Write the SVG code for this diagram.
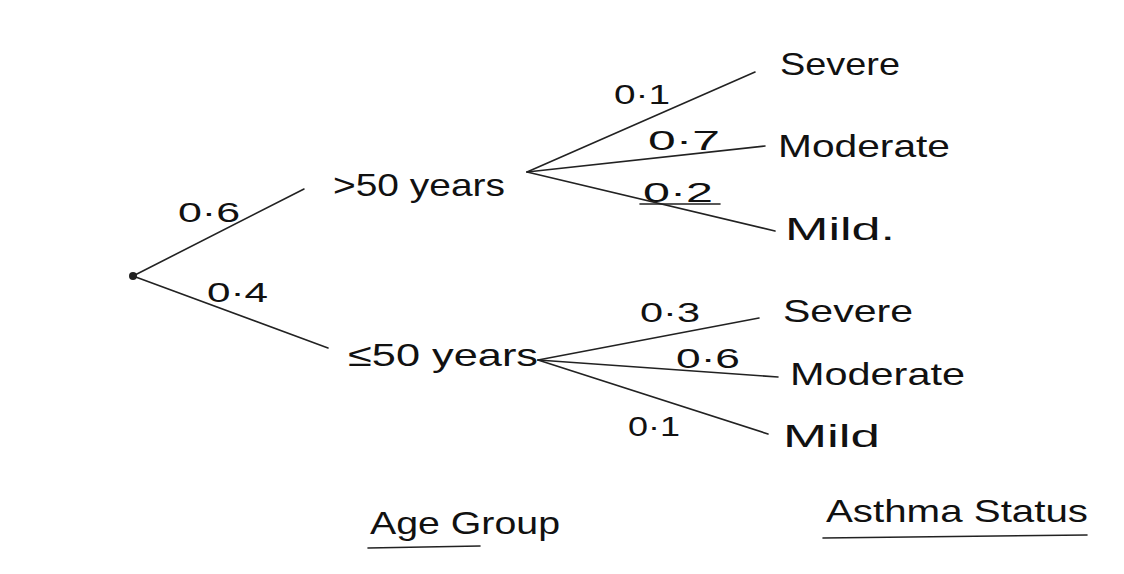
<svg xmlns="http://www.w3.org/2000/svg" width="1124" height="574" viewBox="0 0 1124 574">
<style>
.edge{stroke:#222;stroke-width:1.6;fill:none;stroke-linecap:round}
.t{font-family:"Liberation Sans","DejaVu Sans",sans-serif;fill:#111;font-size:32px}
.p{font-family:"Liberation Sans","DejaVu Sans",sans-serif;fill:#111;font-size:28px}
</style>
<rect width="1124" height="574" fill="#fff"/>
<g id="connectors">
<line class="edge" x1="133" y1="276" x2="304" y2="189"/>
<line class="edge" x1="133" y1="276" x2="328" y2="348"/>
<line class="edge" x1="527" y1="172" x2="755" y2="72"/>
<line class="edge" x1="527" y1="172" x2="765" y2="146"/>
<line class="edge" x1="527" y1="172" x2="775" y2="231"/>
<line class="edge" x1="538" y1="360" x2="759" y2="318"/>
<line class="edge" x1="538" y1="360" x2="778" y2="377"/>
<line class="edge" x1="538" y1="360" x2="768" y2="434"/>
</g>
<g id="root"><circle cx="133" cy="276" r="4" fill="#222"/></g>
<g id="edge-labels">
<text class="p" x="178" y="222" textLength="62" lengthAdjust="spacingAndGlyphs">0·6</text>
<text class="p" x="207" y="302" textLength="61" lengthAdjust="spacingAndGlyphs">0·4</text>
<text class="p" x="614" y="104" textLength="56" lengthAdjust="spacingAndGlyphs">0·1</text>
<text class="p" x="648" y="150" textLength="72" lengthAdjust="spacingAndGlyphs">0·7</text>
<text class="p" x="643" y="202" textLength="70" lengthAdjust="spacingAndGlyphs">0·2</text>
<line class="edge" x1="640" y1="204" x2="720" y2="204"/>
<text class="p" x="640" y="322" textLength="60" lengthAdjust="spacingAndGlyphs">0·3</text>
<text class="p" x="676" y="368" textLength="64" lengthAdjust="spacingAndGlyphs">0·6</text>
<text class="p" x="628" y="436" textLength="52" lengthAdjust="spacingAndGlyphs">0·1</text>
</g>
<g id="age-over-50"><text class="t" x="333" y="196" textLength="172" lengthAdjust="spacingAndGlyphs">&gt;50 years</text></g>
<g id="age-under-50"><text class="t" x="348" y="366" textLength="190" lengthAdjust="spacingAndGlyphs">≤50 years</text></g>
<g id="over-severe"><text class="t" x="780" y="75" textLength="120" lengthAdjust="spacingAndGlyphs">Severe</text></g>
<g id="over-moderate"><text class="t" x="778" y="157" textLength="172" lengthAdjust="spacingAndGlyphs">Moderate</text></g>
<g id="over-mild"><text class="t" x="785" y="240" textLength="110" lengthAdjust="spacingAndGlyphs">Mild.</text></g>
<g id="under-severe"><text class="t" x="783" y="322" textLength="130" lengthAdjust="spacingAndGlyphs">Severe</text></g>
<g id="under-moderate"><text class="t" x="790" y="385" textLength="175" lengthAdjust="spacingAndGlyphs">Moderate</text></g>
<g id="under-mild"><text class="t" x="783" y="447" textLength="97" lengthAdjust="spacingAndGlyphs">Mild</text></g>
<g id="heading-age">
<text class="t" x="370" y="534" textLength="190" lengthAdjust="spacingAndGlyphs">Age Group</text>
<line class="edge" x1="368" y1="548" x2="480" y2="546"/>
</g>
<g id="heading-asthma">
<text class="t" x="826" y="522" textLength="262" lengthAdjust="spacingAndGlyphs">Asthma Status</text>
<line class="edge" x1="823" y1="538" x2="1087" y2="535"/>
</g>
</svg>
